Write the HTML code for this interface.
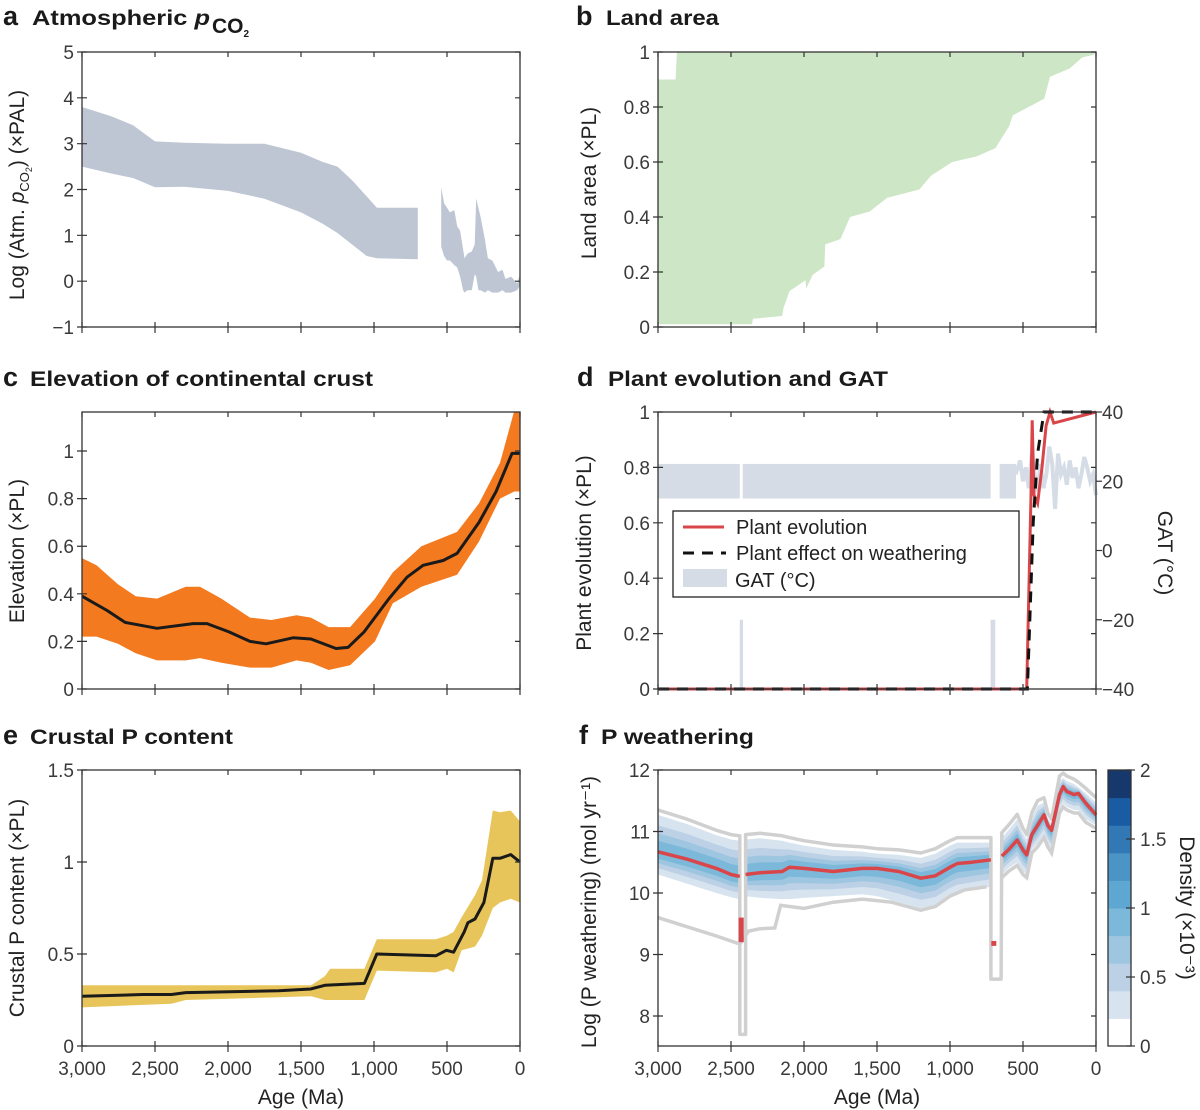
<!DOCTYPE html>
<html><head><meta charset="utf-8">
<style>
html,body{margin:0;padding:0;background:#fff;}
svg{display:block;font-family:"Liberation Sans",sans-serif;}
.tk{font-size:19px;fill:#3a3a3a;}
.al{font-size:21px;fill:#222;}
.tt{font-size:21px;font-weight:bold;fill:#1a1a1a;}
.pl{font-size:27px;font-weight:bold;fill:#1a1a1a;}
.lg{font-size:20px;fill:#222;}
</style></head>
<body>
<svg id="fig" width="1200" height="1110" viewBox="0 0 1200 1110" xmlns="http://www.w3.org/2000/svg">
<text class="pl" x="3" y="25">a</text>
<text class="tt" x="32" y="25" textLength="178" lengthAdjust="spacingAndGlyphs">Atmospheric <tspan font-style="italic">p</tspan></text>
<text class="tt" x="212" y="33" font-size="15">CO<tspan font-size="10" dy="4">2</tspan></text>
<text class="pl" x="576" y="25">b</text>
<text class="tt" x="606" y="25" textLength="113" lengthAdjust="spacingAndGlyphs">Land area</text>
<text class="pl" x="3" y="386">c</text>
<text class="tt" x="30" y="386" textLength="343" lengthAdjust="spacingAndGlyphs">Elevation of continental crust</text>
<text class="pl" x="577" y="386">d</text>
<text class="tt" x="608" y="386" textLength="280" lengthAdjust="spacingAndGlyphs">Plant evolution and GAT</text>
<text class="pl" x="3" y="744">e</text>
<text class="tt" x="30" y="744" textLength="203" lengthAdjust="spacingAndGlyphs">Crustal P content</text>
<text class="pl" x="579" y="744">f</text>
<text class="tt" x="601" y="744" textLength="153" lengthAdjust="spacingAndGlyphs">P weathering</text>
<text class="al" transform="translate(24,195) rotate(-90)" text-anchor="middle">Log (Atm. <tspan font-style="italic">p</tspan><tspan font-size="13" dy="5">CO</tspan><tspan font-size="9" dy="3">2</tspan><tspan dy="-8">) (×PAL)</tspan></text>
<text class="al" transform="translate(596,183) rotate(-90)" text-anchor="middle">Land area (×PL)</text>
<text class="al" transform="translate(24,551) rotate(-90)" text-anchor="middle">Elevation (×PL)</text>
<text class="al" transform="translate(591,553) rotate(-90)" text-anchor="middle">Plant evolution (×PL)</text>
<text class="al" transform="translate(1158,553) rotate(90)" text-anchor="middle">GAT (°C)</text>
<text class="al" transform="translate(24,908) rotate(-90)" text-anchor="middle">Crustal P content (×PL)</text>
<text class="al" transform="translate(596,912) rotate(-90)" text-anchor="middle">Log (P weathering) (mol yr⁻¹)</text>
<text class="al" transform="translate(1180,908) rotate(90)" text-anchor="middle">Density (×10⁻³)</text>
<text class="al" x="301" y="1104" text-anchor="middle">Age (Ma)</text>
<text class="al" x="877" y="1104" text-anchor="middle">Age (Ma)</text>
<g id="legend">
<rect x="673" y="511" width="346" height="86" fill="#fff" stroke="#222" stroke-width="1.3"/>
<line x1="683" y1="527" x2="724" y2="527" stroke="#d9464a" stroke-width="3"/>
<text class="lg" x="736" y="534">Plant evolution</text>
<line x1="683" y1="553" x2="726" y2="553" stroke="#111" stroke-width="3" stroke-dasharray="11,8"/>
<text class="lg" x="736" y="560">Plant effect on weathering</text>
<rect x="683" y="569" width="44" height="18" fill="#d5dce6"/>
<text class="lg" x="735" y="587">GAT (°C)</text>
</g>
</svg>
<script>
// panel a: atmospheric pCO2 band
const aAge1=[3000,2800,2650,2500,2300,2000,1750,1500,1350,1250,1150,1050,980,700];
const aUp1=[3.8,3.6,3.4,3.05,3.02,3.0,3.0,2.8,2.6,2.5,2.2,1.85,1.6,1.6];
const aLo1=[2.5,2.35,2.25,2.05,2.06,1.97,1.8,1.5,1.25,1.05,0.8,0.55,0.5,0.48];
const aAge2=[540,520,500,480,450,430,410,390,380,360,330,310,300,285,270,240,220,190,150,120,100,60,20,0];
const aUp2=[2.05,1.7,1.6,1.5,1.55,1.2,1.1,0.7,0.5,0.6,0.65,0.8,1.8,1.6,1.4,0.9,0.5,0.45,0.2,0.25,0.05,0.1,-0.05,0.15];
const aLo2=[0.75,0.55,0.45,0.45,0.35,0.3,0.1,-0.2,-0.25,-0.2,-0.2,0.15,0.1,-0.2,-0.2,-0.25,-0.2,-0.25,-0.25,-0.2,-0.25,-0.25,-0.2,-0.1];
// panel b: land area
const bAge=[3000,2880,2870,2356,2350,2150,2140,2100,1990,1985,1940,1860,1855,1750,1685,1550,1430,1210,1130,985,820,690,595,570,355,315,180,95,15,0];
const bUp=[0.9,0.9,1,1,1,1,1,1,1,1,1,1,1,1,1,1,1,1,1,1,1,1,1,1,1,1,1,1,1,1];
const bLo=[0.01,0.01,0.01,0.01,0.03,0.04,0.07,0.13,0.17,0.14,0.19,0.22,0.3,0.32,0.4,0.42,0.47,0.5,0.55,0.6,0.62,0.65,0.73,0.77,0.83,0.91,0.94,0.98,0.99,1.0];
// panel c: elevation
const cAge=[3000,2828,2705,2486,2240,2144,1993,1849,1740,1555,1432,1260,1178,1068,897,774,664,527,431,281,164,55,0];
const cMed=[0.39,0.33,0.28,0.255,0.275,0.275,0.24,0.2,0.19,0.215,0.21,0.17,0.175,0.24,0.38,0.47,0.52,0.54,0.57,0.7,0.83,0.99,0.99];
const cBandAge=[3000,2901,2754,2632,2486,2290,2192,2045,1849,1703,1531,1432,1311,1164,993,871,675,431,281,137,39,0];
const cUp=[0.55,0.52,0.44,0.39,0.38,0.43,0.43,0.38,0.3,0.29,0.31,0.3,0.26,0.26,0.38,0.49,0.6,0.66,0.78,0.95,1.17,1.17];
const cLo=[0.22,0.22,0.19,0.15,0.12,0.12,0.13,0.11,0.09,0.09,0.12,0.11,0.08,0.1,0.2,0.36,0.43,0.48,0.62,0.8,0.83,0.83];
// panel d: plants & GAT
const dRedAge=[3000,475,445,437,425,400,370,342,315,290,0];
const dRed=[0,0,0.7,0.97,0.7,0.67,0.8,0.95,1.0,0.96,1.0];
const dDashAge=[3000,470,430,400,356,0];
const dDash=[0,0,0.6,0.85,1.0,1.0];
const gatStart=[3000,2420,660];
const gatEnd=[2440,722,548];
const gatLow=[15,15,15];
const gatHigh=[25,25,25];
const gatDipStart=[2440,722];
const gatDipEnd=[2418,690];
const gatTailAge=[550,520,500,480,460,440,420,400,380,360,340,320,300,280,260,240,220,200,180,160,140,120,100,80,60,40,20,0];
const gatTail=[22,26,20,24,18,28,22,17,25,18,22,30,25,12,28,22,24,19,26,21,24,18,22,27,24,20,22,16];
// panel e: crustal P
const eAge=[3000,2583,2387,2290,1653,1434,1336,1066,981,577,504,455,382,357,308,247,186,137,64,0];
const eMed=[0.27,0.28,0.28,0.29,0.3,0.31,0.33,0.34,0.5,0.49,0.52,0.51,0.62,0.67,0.69,0.78,1.02,1.02,1.04,1.0];
const eBandAge=[3000,2387,2290,1430,1336,1300,1066,981,577,500,455,400,308,260,186,137,64,0];
const eUp=[0.33,0.33,0.33,0.33,0.38,0.42,0.42,0.58,0.58,0.6,0.62,0.7,0.82,0.9,1.28,1.27,1.28,1.22];
const eLo=[0.21,0.23,0.25,0.27,0.25,0.25,0.25,0.41,0.4,0.42,0.4,0.52,0.54,0.6,0.75,0.78,0.8,0.78];
// panel f: P weathering
const fAge=[3000,2800,2600,2500,2440,2400,2300,2150,2100,2000,1800,1600,1500,1350,1200,1100,1000,950,850,720,645,600,540,500,475,440,400,356,330,304,250,225,200,150,120,70,0];
const fMed=[10.67,10.55,10.4,10.3,10.27,10.3,10.33,10.35,10.42,10.4,10.35,10.4,10.4,10.35,10.24,10.28,10.42,10.48,10.5,10.54,10.6,10.7,10.86,10.7,10.62,10.95,11.1,11.27,11.1,11.02,11.6,11.73,11.65,11.6,11.62,11.46,11.27];
const fUp=[11.35,11.2,11.02,10.95,10.93,10.95,10.97,10.93,10.9,10.85,10.78,10.75,10.72,10.7,10.65,10.72,10.85,10.9,10.9,10.9,10.98,11.1,11.28,11.05,10.95,11.3,11.5,11.55,11.3,11.2,11.9,11.95,11.9,11.85,11.8,11.7,11.55];
const fLo=[10.3,10.15,10.0,9.93,9.9,9.95,9.92,9.9,9.9,9.92,9.95,9.98,9.95,9.85,9.75,9.8,9.95,10.0,10.05,10.1,10.3,10.4,10.5,10.35,10.3,10.7,10.8,10.95,10.8,10.7,11.35,11.45,11.4,11.35,11.35,11.2,11.1];
const fGrayAge=[3000,2800,2600,2440,2380,2300,2200,2160,2100,2000,1800,1600,1400,1200,1100,1000,900,750];
const fGrayLo=[9.6,9.45,9.3,9.17,9.38,9.42,9.43,9.8,9.78,9.75,9.85,9.9,9.85,9.72,9.78,9.95,10.05,10.1];
const fGaps=[[2440,2400],[720,645]];
const fDipAgeA=[2440,720];
const fDipAgeB=[2400,650];
const fDipBottom=[7.7,8.6];
const fRedDipAge=[2430,700];
const fRedDipTop=[9.6,9.22];
const fRedDipBot=[9.2,9.14];
const cbLevels=[0,0.2,0.4,0.6,0.8,1.0,1.2,1.4,1.6,1.8,2.0];
const cbColors=['#ffffff','#d7e4ef','#bdd1e6','#9ec6e0','#7cb8da','#5ea7d2','#4a94c6','#3178b5','#1a5ca3','#16386c'];
const ageTicks=[3000,2500,2000,1500,1000,500,0];
const ageTickLabels=['3,000','2,500','2,000','1,500','1,000','500','0'];

const NS='http://www.w3.org/2000/svg';
const svg=document.getElementById('fig');
function mk(tag,a,parent){const e=document.createElementNS(NS,tag);for(const k in a)e.setAttribute(k,a[k]);(parent||svg).appendChild(e);return e;}
function axes(x0,x1,y0,y1,ymin,ymax){
  return {x0,x1,y0,y1,ymin,ymax,
    sx:a=>x0+(3000-a)/3000*(x1-x0),
    sy:v=>y1-(v-ymin)/(ymax-ymin)*(y1-y0)};
}
function linePath(P,ages,vals){return ages.map((a,i)=>(i?'L':'M')+P.sx(a).toFixed(1)+','+P.sy(vals[i]).toFixed(1)).join('');}
function areaPath(P,ages,up,lo){
  let d=ages.map((a,i)=>(i?'L':'M')+P.sx(a).toFixed(1)+','+P.sy(up[i]).toFixed(1)).join('');
  for(let i=ages.length-1;i>=0;i--)d+='L'+P.sx(ages[i]).toFixed(1)+','+P.sy(lo[i]).toFixed(1);
  return d+'Z';
}
function frame(P,name,yvals,ylabels,showX){
  const g=mk('g',{});
  
  
  const r=mk('rect',{x:P.x0,y:P.y0,width:P.x1-P.x0,height:P.y1-P.y0,fill:'none',stroke:'#333','stroke-width':1.3},g);
  
  
  yvals.forEach((v,i)=>{
    const y=P.sy(v);
    const t=mk('path',{d:'M'+(P.x0-5)+','+y+'H'+(P.x0+5)+'M'+(P.x1-5)+','+y+'H'+P.x1,stroke:'#333','stroke-width':1.2},g);
    
    
    const l=mk('text',{x:P.x0-8,y:y+7,'text-anchor':'end',class:'tk'},g);
    l.textContent=ylabels[i];
    
    
  });
  ageTicks.forEach((a,i)=>{
    const x=P.sx(a);
    const t=mk('path',{d:'M'+x+','+(P.y1+6)+'V'+(P.y1-5)+'M'+x+','+P.y0+'V'+(P.y0+5),stroke:'#333','stroke-width':1.2},g);
    
    
    if(showX){
      const l=mk('text',{x:x,y:P.y1+29,'text-anchor':'middle',class:'tk'},g);
      l.textContent=ageTickLabels[i];
      
      
    }
  });
}
function clipFor(P,id){
  const cp=mk('clipPath',{id:id});
  mk('rect',{x:P.x0,y:P.y0,width:P.x1-P.x0,height:P.y1-P.y0},cp);
  return 'url(#'+id+')';
}
let e;
// panel a
const PA=axes(82,520,52,327,-1,5);
const ca=clipFor(PA,'ca');
e=mk('path',{d:areaPath(PA,aAge1,aUp1,aLo1),fill:'#bec6d4','clip-path':ca});


e=mk('path',{d:areaPath(PA,aAge2,aUp2,aLo2),fill:'#bec6d4','clip-path':ca});


frame(PA,'panel-a',[5,4,3,2,1,0,-1],['5','4','3','2','1','0','−1'],false);
// panel b
const PB=axes(658,1096,52,327,0,1);
e=mk('path',{d:areaPath(PB,bAge,bUp,bLo),fill:'#cde6c5'});


frame(PB,'panel-b',[1,0.8,0.6,0.4,0.2,0],['1','0.8','0.6','0.4','0.2','0'],false);
// panel c
const PC=axes(82,520,412,689,0,1.164);
const cc=clipFor(PC,'cc');
e=mk('path',{d:areaPath(PC,cBandAge,cUp,cLo),fill:'#f47a20','clip-path':cc});


e=mk('path',{d:linePath(PC,cAge,cMed),fill:'none',stroke:'#1a1a1a','stroke-width':3,'stroke-linejoin':'round'});


frame(PC,'panel-c',[1,0.8,0.6,0.4,0.2,0],['1','0.8','0.6','0.4','0.2','0'],false);
// panel d
const PD=axes(658,1096,412,689,0,1);
const syG=v=>PD.y1-(v+40)/80*(PD.y1-PD.y0);
gatStart.forEach((s,i)=>{
  const r=mk('rect',{x:PD.sx(s),y:syG(gatHigh[i]),width:PD.sx(gatEnd[i])-PD.sx(s),height:syG(gatLow[i])-syG(gatHigh[i]),fill:'#d5dce6'});
  
  
});
gatDipStart.forEach((s,i)=>{
  const r=mk('rect',{x:PD.sx(s),y:syG(-20),width:PD.sx(gatDipEnd[i])-PD.sx(s),height:syG(-40)-syG(-20),fill:'#d5dce6'});
  
  
});
e=mk('path',{d:gatTailAge.map((a,i)=>(i?'L':'M')+PD.sx(a).toFixed(1)+','+syG(gatTail[i]).toFixed(1)).join(''),fill:'none',stroke:'#d5dce6','stroke-width':4});


e=mk('path',{d:linePath(PD,dRedAge,dRed),fill:'none',stroke:'#d9464a','stroke-width':3});


e=mk('path',{d:linePath(PD,dDashAge,dDash),fill:'none',stroke:'#111','stroke-width':3,'stroke-dasharray':'11,8'});


frame(PD,'panel-d',[1,0.8,0.6,0.4,0.2,0],['1','0.8','0.6','0.4','0.2','0'],false);
[40,20,0,-20,-40].forEach(v=>{
  const y=syG(v);
  const t=mk('path',{d:'M'+PD.x1+','+y+'H'+(PD.x1+6),stroke:'#333','stroke-width':1.2});
  
  
  const l=mk('text',{x:PD.x1+6,y:y+7,class:'tk'});
  l.textContent=v<0?'−'+(-v):String(v);
  
  
});
svg.appendChild(document.getElementById('legend'));
// panel e
const PE=axes(82,520,770,1046,0,1.5);
e=mk('path',{d:areaPath(PE,eBandAge,eUp,eLo),fill:'#e8c55a'});


e=mk('path',{d:linePath(PE,eAge,eMed),fill:'none',stroke:'#1a1a1a','stroke-width':3,'stroke-linejoin':'round'});


frame(PE,'panel-e',[1.5,1,0.5,0],['1.5','1','0.5','0'],true);
// panel f
const PF=axes(658,1096,770,1046,7.512,12);
function segments(){
  const segs=[];let cur=[];
  fAge.forEach((a,i)=>{
    if(cur.length){
      const prev=fAge[cur[cur.length-1]];
      if(fGaps.some(g=>prev>=g[0]&&a<=g[1])){segs.push(cur);cur=[];}
    }
    cur.push(i);
  });
  segs.push(cur);return segs;
}
const fSegs=segments();
const fracs=[1,0.72,0.5,0.3];
const fCols=['#d7e4ef','#bdd1e6','#9ec6e0','#7cb8da'];
fSegs.forEach(idx=>{
  const ag=idx.map(i=>fAge[i]);
  fracs.forEach((fr,k)=>{
    const up=idx.map(i=>fMed[i]+(fUp[i]-0.08-fMed[i])*fr);
    const lo=idx.map(i=>fMed[i]-(fMed[i]-fLo[i])*fr);
    const p=mk('path',{d:areaPath(PF,ag,up,lo),fill:fCols[k]});
    
    
  });
});
let env='';
fAge.forEach((a,i)=>{
  env+=(i?'L':'M')+PF.sx(a).toFixed(1)+','+PF.sy(fUp[i]).toFixed(1);
  const k=fGaps.findIndex(g=>a===g[0]);
  if(k>=0){
    env+='L'+PF.sx(fDipAgeA[k]).toFixed(1)+','+PF.sy(fDipBottom[k]).toFixed(1);
    env+='L'+PF.sx(fDipAgeB[k]).toFixed(1)+','+PF.sy(fDipBottom[k]).toFixed(1);
  }
});
e=mk('path',{d:env,fill:'none',stroke:'#d0d0d0','stroke-width':3.5,'stroke-linejoin':'round'});


e=mk('path',{d:linePath(PF,fGrayAge,fGrayLo),fill:'none',stroke:'#d0d0d0','stroke-width':3.5});


const s3=fSegs[fSegs.length-1];
e=mk('path',{d:linePath(PF,s3.map(i=>fAge[i]),s3.map(i=>fLo[i]-0.05)),fill:'none',stroke:'#d0d0d0','stroke-width':3.5});


fSegs.forEach(idx=>{
  const p=mk('path',{d:linePath(PF,idx.map(i=>fAge[i]),idx.map(i=>fMed[i])),fill:'none',stroke:'#d9464a','stroke-width':3.5,'stroke-linejoin':'round'});
  
  
});
fRedDipAge.forEach((a,i)=>{
  const p=mk('path',{d:'M'+PF.sx(a)+','+PF.sy(fRedDipTop[i])+'V'+PF.sy(fRedDipBot[i]),stroke:'#d9464a','stroke-width':5});
  
  
});
frame(PF,'panel-f',[12,11,10,9,8],['12','11','10','9','8'],true);
// colorbar
const CB={x0:1108,x1:1131,y0:770,y1:1046};
const cby=v=>CB.y1-v/2*(CB.y1-CB.y0);
cbColors.forEach((c,i)=>{
  const r=mk('rect',{x:CB.x0,y:cby(cbLevels[i+1]),width:CB.x1-CB.x0,height:cby(cbLevels[i])-cby(cbLevels[i+1])+0.5,fill:c});
  
  
});
e=mk('rect',{x:CB.x0,y:CB.y0,width:CB.x1-CB.x0,height:CB.y1-CB.y0,fill:'none',stroke:'#333','stroke-width':1.3});


[2,1.5,1,0.5,0].forEach(v=>{
  const y=cby(v);
  const t=mk('path',{d:'M'+(CB.x1-5)+','+y+'H'+(CB.x1+4),stroke:'#333','stroke-width':1.2});
  
  
  const l=mk('text',{x:CB.x1+9,y:y+7,class:'tk'});
  l.textContent=String(v);
  
  
});
</script>
</body></html>
